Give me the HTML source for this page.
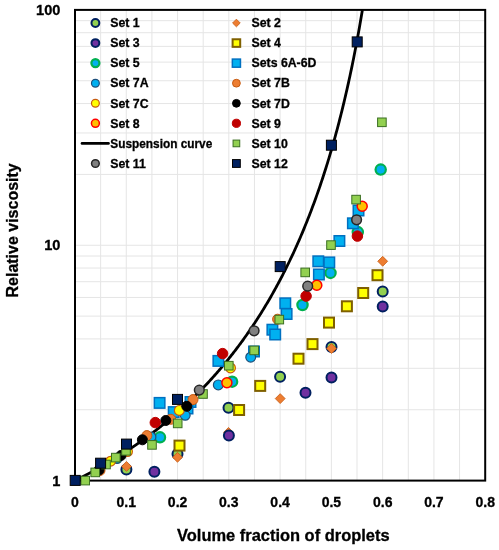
<!DOCTYPE html>
<html><head><meta charset="utf-8"><title>Relative viscosity chart</title>
<style>html,body{margin:0;padding:0;background:#fff;}body{width:499px;height:550px;overflow:hidden;}svg{display:block;}</style>
</head><body>
<svg width="499" height="550" viewBox="0 0 499 550"><path d="M100.64 9.9V480.6M126.28 9.9V480.6M151.91 9.9V480.6M177.55 9.9V480.6M203.19 9.9V480.6M228.83 9.9V480.6M254.46 9.9V480.6M280.10 9.9V480.6M305.74 9.9V480.6M331.38 9.9V480.6M357.01 9.9V480.6M382.65 9.9V480.6M408.29 9.9V480.6M433.93 9.9V480.6M459.56 9.9V480.6M75.0 409.75H485.2M75.0 368.31H485.2M75.0 338.91H485.2M75.0 316.10H485.2M75.0 297.46H485.2M75.0 281.71H485.2M75.0 268.06H485.2M75.0 256.02H485.2M75.0 174.40H485.2M75.0 132.96H485.2M75.0 103.56H485.2M75.0 80.75H485.2M75.0 62.11H485.2M75.0 46.36H485.2M75.0 32.71H485.2M75.0 20.67H485.2M75.0 245.25H485.2" stroke="#E5E5E5" stroke-width="1" fill="none"/>
<rect x="75.0" y="9.9" width="410.20" height="470.70" fill="none" stroke="#000" stroke-width="2"/>
<polyline points="75.00,480.60 75.73,480.24 76.45,479.88 77.18,479.52 77.90,479.15 78.63,478.79 79.35,478.42 80.08,478.05 80.80,477.68 81.53,477.31 82.25,476.94 82.98,476.57 83.71,476.19 84.43,475.82 85.16,475.44 85.88,475.06 86.61,474.68 87.33,474.30 88.06,473.91 88.78,473.53 89.51,473.14 90.23,472.75 90.96,472.36 91.68,471.97 92.41,471.58 93.14,471.18 93.86,470.79 94.59,470.39 95.31,469.99 96.04,469.59 96.76,469.19 97.49,468.78 98.21,468.38 98.94,467.97 99.66,467.56 100.39,467.15 101.12,466.74 101.84,466.33 102.57,465.91 103.29,465.49 104.02,465.07 104.74,464.65 105.47,464.23 106.19,463.81 106.92,463.38 107.64,462.96 108.37,462.53 109.10,462.10 109.82,461.67 110.55,461.23 111.27,460.80 112.00,460.36 112.72,459.92 113.45,459.48 114.17,459.04 114.90,458.59 115.62,458.15 116.35,457.70 117.08,457.25 117.80,456.80 118.53,456.35 119.25,455.89 119.98,455.44 120.70,454.98 121.43,454.52 122.15,454.05 122.88,453.59 123.60,453.12 124.33,452.66 125.05,452.19 125.78,451.71 126.51,451.24 127.23,450.76 127.96,450.29 128.68,449.81 129.41,449.33 130.13,448.84 130.86,448.36 131.58,447.87 132.31,447.38 133.03,446.89 133.76,446.39 134.49,445.90 135.21,445.40 135.94,444.90 136.66,444.40 137.39,443.90 138.11,443.39 138.84,442.88 139.56,442.37 140.29,441.86 141.01,441.34 141.74,440.83 142.47,440.31 143.19,439.79 143.92,439.27 144.64,438.74 145.37,438.21 146.09,437.68 146.82,437.15 147.54,436.62 148.27,436.08 148.99,435.54 149.72,435.00 150.44,434.46 151.17,433.91 151.90,433.36 152.62,432.81 153.35,432.26 154.07,431.71 154.80,431.15 155.52,430.59 156.25,430.03 156.97,429.46 157.70,428.90 158.42,428.33 159.15,427.75 159.88,427.18 160.60,426.60 161.33,426.02 162.05,425.44 162.78,424.86 163.50,424.27 164.23,423.68 164.95,423.09 165.68,422.49 166.40,421.90 167.13,421.30 167.86,420.69 168.58,420.09 169.31,419.48 170.03,418.87 170.76,418.26 171.48,417.64 172.21,417.02 172.93,416.40 173.66,415.78 174.38,415.15 175.11,414.52 175.84,413.89 176.56,413.25 177.29,412.61 178.01,411.97 178.74,411.33 179.46,410.68 180.19,410.03 180.91,409.38 181.64,408.72 182.36,408.06 183.09,407.40 183.81,406.74 184.54,406.07 185.27,405.40 185.99,404.72 186.72,404.05 187.44,403.37 188.17,402.68 188.89,402.00 189.62,401.31 190.34,400.61 191.07,399.92 191.79,399.22 192.52,398.51 193.25,397.81 193.97,397.10 194.70,396.39 195.42,395.67 196.15,394.95 196.87,394.23 197.60,393.50 198.32,392.77 199.05,392.04 199.77,391.30 200.50,390.56 201.23,389.82 201.95,389.07 202.68,388.32 203.40,387.56 204.13,386.80 204.85,386.04 205.58,385.28 206.30,384.51 207.03,383.73 207.75,382.95 208.48,382.17 209.20,381.39 209.93,380.60 210.66,379.81 211.38,379.01 212.11,378.21 212.83,377.41 213.56,376.60 214.28,375.78 215.01,374.97 215.73,374.15 216.46,373.32 217.18,372.49 217.91,371.66 218.64,370.82 219.36,369.98 220.09,369.13 220.81,368.28 221.54,367.43 222.26,366.57 222.99,365.70 223.71,364.84 224.44,363.96 225.16,363.09 225.89,362.20 226.62,361.32 227.34,360.43 228.07,359.53 228.79,358.63 229.52,357.72 230.24,356.81 230.97,355.90 231.69,354.98 232.42,354.05 233.14,353.12 233.87,352.19 234.60,351.25 235.32,350.30 236.05,349.35 236.77,348.40 237.50,347.44 238.22,346.47 238.95,345.50 239.67,344.52 240.40,343.54 241.12,342.55 241.85,341.56 242.57,340.56 243.30,339.56 244.03,338.55 244.75,337.53 245.48,336.51 246.20,335.49 246.93,334.45 247.65,333.41 248.38,332.37 249.10,331.32 249.83,330.26 250.55,329.20 251.28,328.13 252.01,327.05 252.73,325.97 253.46,324.88 254.18,323.79 254.91,322.69 255.63,321.58 256.36,320.46 257.08,319.34 257.81,318.22 258.53,317.08 259.26,315.94 259.99,314.79 260.71,313.64 261.44,312.47 262.16,311.30 262.89,310.13 263.61,308.94 264.34,307.75 265.06,306.55 265.79,305.35 266.51,304.13 267.24,302.91 267.96,301.68 268.69,300.44 269.42,299.20 270.14,297.95 270.87,296.68 271.59,295.41 272.32,294.14 273.04,292.85 273.77,291.56 274.49,290.25 275.22,288.94 275.94,287.62 276.67,286.29 277.40,284.95 278.12,283.61 278.85,282.25 279.57,280.89 280.30,279.51 281.02,278.13 281.75,276.73 282.47,275.33 283.20,273.92 283.92,272.49 284.65,271.06 285.38,269.62 286.10,268.16 286.83,266.70 287.55,265.23 288.28,263.74 289.00,262.25 289.73,260.74 290.45,259.22 291.18,257.69 291.90,256.15 292.63,254.60 293.36,253.04 294.08,251.47 294.81,249.88 295.53,248.28 296.26,246.67 296.98,245.05 297.71,243.41 298.43,241.77 299.16,240.10 299.88,238.43 300.61,236.74 301.33,235.04 302.06,233.33 302.79,231.60 303.51,229.86 304.24,228.11 304.96,226.34 305.69,224.55 306.41,222.75 307.14,220.94 307.86,219.11 308.59,217.27 309.31,215.41 310.04,213.53 310.77,211.64 311.49,209.73 312.22,207.80 312.94,205.86 313.67,203.90 314.39,201.93 315.12,199.93 315.84,197.92 316.57,195.89 317.29,193.85 318.02,191.78 318.75,189.69 319.47,187.59 320.20,185.46 320.92,183.32 321.65,181.15 322.37,178.97 323.10,176.76 323.82,174.53 324.55,172.28 325.27,170.01 326.00,167.72 326.72,165.40 327.45,163.06 328.18,160.69 328.90,158.30 329.63,155.89 330.35,153.45 331.08,150.98 331.80,148.49 332.53,145.98 333.25,143.43 333.98,140.86 334.70,138.26 335.43,135.63 336.16,132.97 336.88,130.28 337.61,127.56 338.33,124.81 339.06,122.03 339.78,119.22 340.51,116.37 341.23,113.49 341.96,110.57 342.68,107.62 343.41,104.63 344.14,101.60 344.86,98.54 345.59,95.44 346.31,92.30 347.04,89.11 347.76,85.89 348.49,82.62 349.21,79.31 349.94,75.95 350.66,72.55 351.39,69.10 352.12,65.60 352.84,62.06 353.57,58.46 354.29,54.81 355.02,51.10 355.74,47.34 356.47,43.53 357.19,39.65 357.92,35.71 358.64,31.72 359.37,27.65 360.09,23.53 360.82,19.33 361.55,15.07 362.27,10.73 362.41,9.90" fill="none" stroke="#000" stroke-width="2.8" stroke-linejoin="round"/>
<circle cx="126.4" cy="469.6" r="5.00" fill="#92D050" stroke="#002060" stroke-width="2"/>
<circle cx="177.5" cy="454.0" r="5.00" fill="#92D050" stroke="#002060" stroke-width="2"/>
<circle cx="228.5" cy="407.8" r="5.00" fill="#92D050" stroke="#002060" stroke-width="2"/>
<circle cx="280.1" cy="376.8" r="5.00" fill="#92D050" stroke="#002060" stroke-width="2"/>
<circle cx="331.5" cy="347.1" r="5.00" fill="#92D050" stroke="#002060" stroke-width="2"/>
<circle cx="382.7" cy="291.5" r="5.00" fill="#92D050" stroke="#002060" stroke-width="2"/>
<path d="M126.50 461.46L131.44 466.40L126.50 471.34L121.56 466.40Z" fill="#ED7D31" stroke="#C55A11" stroke-width="0.8" stroke-linejoin="miter"/>
<path d="M177.50 452.36L182.44 457.30L177.50 462.24L172.56 457.30Z" fill="#ED7D31" stroke="#C55A11" stroke-width="0.8" stroke-linejoin="miter"/>
<path d="M228.50 427.46L233.44 432.40L228.50 437.34L223.56 432.40Z" fill="#ED7D31" stroke="#C55A11" stroke-width="0.8" stroke-linejoin="miter"/>
<path d="M280.20 393.66L285.14 398.60L280.20 403.54L275.26 398.60Z" fill="#ED7D31" stroke="#C55A11" stroke-width="0.8" stroke-linejoin="miter"/>
<path d="M331.50 343.56L336.44 348.50L331.50 353.44L326.56 348.50Z" fill="#ED7D31" stroke="#C55A11" stroke-width="0.8" stroke-linejoin="miter"/>
<path d="M382.70 256.36L387.64 261.30L382.70 266.24L377.76 261.30Z" fill="#ED7D31" stroke="#C55A11" stroke-width="0.8" stroke-linejoin="miter"/>
<circle cx="154.4" cy="471.7" r="5.00" fill="#7030A0" stroke="#002060" stroke-width="2"/>
<circle cx="228.9" cy="435.5" r="5.00" fill="#7030A0" stroke="#002060" stroke-width="2"/>
<circle cx="305.5" cy="392.8" r="5.00" fill="#7030A0" stroke="#002060" stroke-width="2"/>
<circle cx="331.5" cy="377.5" r="5.00" fill="#7030A0" stroke="#002060" stroke-width="2"/>
<circle cx="382.7" cy="306.5" r="5.00" fill="#7030A0" stroke="#002060" stroke-width="2"/>
<rect x="174.50" y="440.60" width="10.00" height="10.00" fill="#FFFF00" stroke="#7F6000" stroke-width="2"/>
<rect x="234.10" y="405.00" width="10.00" height="10.00" fill="#FFFF00" stroke="#7F6000" stroke-width="2"/>
<rect x="255.20" y="380.90" width="10.00" height="10.00" fill="#FFFF00" stroke="#7F6000" stroke-width="2"/>
<rect x="293.50" y="353.70" width="10.00" height="10.00" fill="#FFFF00" stroke="#7F6000" stroke-width="2"/>
<rect x="307.50" y="339.10" width="10.00" height="10.00" fill="#FFFF00" stroke="#7F6000" stroke-width="2"/>
<rect x="324.00" y="317.60" width="10.00" height="10.00" fill="#FFFF00" stroke="#7F6000" stroke-width="2"/>
<rect x="341.90" y="301.30" width="10.00" height="10.00" fill="#FFFF00" stroke="#7F6000" stroke-width="2"/>
<rect x="358.20" y="288.00" width="10.00" height="10.00" fill="#FFFF00" stroke="#7F6000" stroke-width="2"/>
<rect x="372.50" y="270.20" width="10.00" height="10.00" fill="#FFFF00" stroke="#7F6000" stroke-width="2"/>
<circle cx="160.0" cy="437.3" r="5.15" fill="#00B0F0" stroke="#00B050" stroke-width="2.2"/>
<circle cx="232.1" cy="381.7" r="5.15" fill="#00B0F0" stroke="#00B050" stroke-width="2.2"/>
<circle cx="302.5" cy="305.0" r="5.15" fill="#00B0F0" stroke="#00B050" stroke-width="2.2"/>
<circle cx="330.5" cy="272.9" r="5.15" fill="#00B0F0" stroke="#00B050" stroke-width="2.2"/>
<circle cx="357.8" cy="232.1" r="5.15" fill="#00B0F0" stroke="#00B050" stroke-width="2.2"/>
<circle cx="380.7" cy="169.6" r="5.15" fill="#00B0F0" stroke="#00B050" stroke-width="2.2"/>
<rect x="154.35" y="397.65" width="10.50" height="10.50" fill="#00B0F0" stroke="#0070C0" stroke-width="1.5"/>
<rect x="168.45" y="406.85" width="10.50" height="10.50" fill="#00B0F0" stroke="#0070C0" stroke-width="1.5"/>
<rect x="185.25" y="396.75" width="10.50" height="10.50" fill="#00B0F0" stroke="#0070C0" stroke-width="1.5"/>
<rect x="182.25" y="403.25" width="10.50" height="10.50" fill="#00B0F0" stroke="#0070C0" stroke-width="1.5"/>
<rect x="213.15" y="355.65" width="10.50" height="10.50" fill="#00B0F0" stroke="#0070C0" stroke-width="1.5"/>
<rect x="248.75" y="346.25" width="10.50" height="10.50" fill="#00B0F0" stroke="#0070C0" stroke-width="1.5"/>
<rect x="280.05" y="298.05" width="10.50" height="10.50" fill="#00B0F0" stroke="#0070C0" stroke-width="1.5"/>
<rect x="281.35" y="308.75" width="10.50" height="10.50" fill="#00B0F0" stroke="#0070C0" stroke-width="1.5"/>
<rect x="267.15" y="324.45" width="10.50" height="10.50" fill="#00B0F0" stroke="#0070C0" stroke-width="1.5"/>
<rect x="269.95" y="329.25" width="10.50" height="10.50" fill="#00B0F0" stroke="#0070C0" stroke-width="1.5"/>
<rect x="313.05" y="256.05" width="10.50" height="10.50" fill="#00B0F0" stroke="#0070C0" stroke-width="1.5"/>
<rect x="324.05" y="257.15" width="10.50" height="10.50" fill="#00B0F0" stroke="#0070C0" stroke-width="1.5"/>
<rect x="313.65" y="269.25" width="10.50" height="10.50" fill="#00B0F0" stroke="#0070C0" stroke-width="1.5"/>
<rect x="334.15" y="235.75" width="10.50" height="10.50" fill="#00B0F0" stroke="#0070C0" stroke-width="1.5"/>
<rect x="347.65" y="218.05" width="10.50" height="10.50" fill="#00B0F0" stroke="#0070C0" stroke-width="1.5"/>
<rect x="353.25" y="205.25" width="10.50" height="10.50" fill="#00B0F0" stroke="#0070C0" stroke-width="1.5"/>
<circle cx="117.0" cy="458.5" r="4.90" fill="#00B0F0" stroke="#1F4E79" stroke-width="1.2"/>
<circle cx="151.0" cy="437.0" r="4.90" fill="#00B0F0" stroke="#1F4E79" stroke-width="1.2"/>
<circle cx="185.2" cy="415.3" r="4.90" fill="#00B0F0" stroke="#1F4E79" stroke-width="1.2"/>
<circle cx="218.3" cy="384.9" r="4.90" fill="#00B0F0" stroke="#1F4E79" stroke-width="1.2"/>
<circle cx="250.7" cy="357.2" r="4.90" fill="#00B0F0" stroke="#1F4E79" stroke-width="1.2"/>
<circle cx="100.0" cy="470.5" r="5.00" fill="#ED7D31" stroke="#C55A11" stroke-width="1"/>
<circle cx="146.9" cy="435.6" r="5.00" fill="#ED7D31" stroke="#C55A11" stroke-width="1"/>
<circle cx="170.8" cy="419.3" r="5.00" fill="#ED7D31" stroke="#C55A11" stroke-width="1"/>
<circle cx="193.0" cy="399.6" r="5.00" fill="#ED7D31" stroke="#C55A11" stroke-width="1"/>
<circle cx="277.6" cy="319.2" r="5.00" fill="#ED7D31" stroke="#C55A11" stroke-width="1"/>
<circle cx="110.6" cy="461.2" r="4.90" fill="#FFFF00" stroke="#C55A11" stroke-width="1.2"/>
<circle cx="127.5" cy="451.5" r="4.90" fill="#FFFF00" stroke="#C55A11" stroke-width="1.2"/>
<circle cx="179.3" cy="410.4" r="4.90" fill="#FFFF00" stroke="#C55A11" stroke-width="1.2"/>
<circle cx="230.5" cy="367.9" r="4.90" fill="#FFFF00" stroke="#C55A11" stroke-width="1.2"/>
<circle cx="99.0" cy="470.0" r="5.00" fill="#000000" stroke="#000000" stroke-width="1"/>
<circle cx="121.0" cy="455.5" r="5.00" fill="#000000" stroke="#000000" stroke-width="1"/>
<circle cx="142.4" cy="439.8" r="5.00" fill="#000000" stroke="#000000" stroke-width="1"/>
<circle cx="165.8" cy="420.5" r="5.00" fill="#000000" stroke="#000000" stroke-width="1"/>
<circle cx="186.8" cy="406.3" r="5.00" fill="#000000" stroke="#000000" stroke-width="1"/>
<circle cx="226.9" cy="382.8" r="5.00" fill="#FFC000" stroke="#FF0000" stroke-width="1.5"/>
<circle cx="316.8" cy="285.2" r="5.00" fill="#FFC000" stroke="#FF0000" stroke-width="1.5"/>
<circle cx="362.2" cy="206.3" r="5.00" fill="#FFC000" stroke="#FF0000" stroke-width="1.5"/>
<circle cx="155.3" cy="422.6" r="5.25" fill="#C00000" stroke="#C00000" stroke-width="1"/>
<circle cx="222.6" cy="353.6" r="5.25" fill="#C00000" stroke="#C00000" stroke-width="1"/>
<circle cx="306.1" cy="296.1" r="5.25" fill="#C00000" stroke="#C00000" stroke-width="1"/>
<circle cx="357.4" cy="236.1" r="5.25" fill="#C00000" stroke="#C00000" stroke-width="1"/>
<rect x="80.90" y="476.30" width="8.60" height="8.60" fill="#92D050" stroke="#3B6E22" stroke-width="1"/>
<rect x="90.90" y="468.10" width="8.60" height="8.60" fill="#92D050" stroke="#3B6E22" stroke-width="1"/>
<rect x="101.70" y="460.20" width="8.60" height="8.60" fill="#92D050" stroke="#3B6E22" stroke-width="1"/>
<rect x="111.50" y="453.30" width="8.60" height="8.60" fill="#92D050" stroke="#3B6E22" stroke-width="1"/>
<rect x="121.70" y="446.50" width="8.60" height="8.60" fill="#92D050" stroke="#3B6E22" stroke-width="1"/>
<rect x="147.70" y="440.60" width="8.60" height="8.60" fill="#92D050" stroke="#3B6E22" stroke-width="1"/>
<rect x="173.40" y="419.10" width="8.60" height="8.60" fill="#92D050" stroke="#3B6E22" stroke-width="1"/>
<rect x="198.70" y="389.70" width="8.60" height="8.60" fill="#92D050" stroke="#3B6E22" stroke-width="1"/>
<rect x="224.50" y="361.40" width="8.60" height="8.60" fill="#92D050" stroke="#3B6E22" stroke-width="1"/>
<rect x="249.90" y="346.10" width="8.60" height="8.60" fill="#92D050" stroke="#3B6E22" stroke-width="1"/>
<rect x="275.00" y="315.30" width="8.60" height="8.60" fill="#92D050" stroke="#3B6E22" stroke-width="1"/>
<rect x="300.90" y="268.10" width="8.60" height="8.60" fill="#92D050" stroke="#3B6E22" stroke-width="1"/>
<rect x="326.70" y="240.80" width="8.60" height="8.60" fill="#92D050" stroke="#3B6E22" stroke-width="1"/>
<rect x="351.80" y="195.30" width="8.60" height="8.60" fill="#92D050" stroke="#3B6E22" stroke-width="1"/>
<rect x="377.60" y="118.00" width="8.60" height="8.60" fill="#92D050" stroke="#3B6E22" stroke-width="1"/>
<circle cx="199.3" cy="390.1" r="4.85" fill="#808080" stroke="#262626" stroke-width="1.5"/>
<circle cx="254.1" cy="330.8" r="4.85" fill="#808080" stroke="#262626" stroke-width="1.5"/>
<circle cx="307.7" cy="286.2" r="4.85" fill="#808080" stroke="#262626" stroke-width="1.5"/>
<circle cx="356.6" cy="219.8" r="4.85" fill="#808080" stroke="#262626" stroke-width="1.5"/>
<rect x="70.20" y="475.40" width="10.00" height="10.00" fill="#002060" stroke="#000000" stroke-width="1"/>
<rect x="95.60" y="458.20" width="10.00" height="10.00" fill="#002060" stroke="#000000" stroke-width="1"/>
<rect x="121.50" y="439.10" width="10.00" height="10.00" fill="#002060" stroke="#000000" stroke-width="1"/>
<rect x="172.50" y="394.40" width="10.00" height="10.00" fill="#002060" stroke="#000000" stroke-width="1"/>
<rect x="275.20" y="261.60" width="10.00" height="10.00" fill="#002060" stroke="#000000" stroke-width="1"/>
<rect x="326.40" y="140.20" width="10.00" height="10.00" fill="#002060" stroke="#000000" stroke-width="1"/>
<rect x="352.20" y="36.90" width="10.00" height="10.00" fill="#002060" stroke="#000000" stroke-width="1"/>
<circle cx="95.4" cy="23.0" r="3.92" fill="#92D050" stroke="#002060" stroke-width="2"/>
<text x="110.3" y="27.2" font-family="Liberation Sans, Arial, sans-serif" font-weight="bold" stroke="#000" stroke-width="0.3" font-size="12.3" fill="#000">Set 1</text>
<circle cx="95.4" cy="43.1" r="3.92" fill="#7030A0" stroke="#002060" stroke-width="2"/>
<text x="110.3" y="47.3" font-family="Liberation Sans, Arial, sans-serif" font-weight="bold" stroke="#000" stroke-width="0.3" font-size="12.3" fill="#000">Set 3</text>
<circle cx="95.4" cy="63.1" r="4.03" fill="#00B0F0" stroke="#00B050" stroke-width="2.2"/>
<text x="110.3" y="67.3" font-family="Liberation Sans, Arial, sans-serif" font-weight="bold" stroke="#000" stroke-width="0.3" font-size="12.3" fill="#000">Set 5</text>
<circle cx="95.4" cy="83.2" r="3.91" fill="#00B0F0" stroke="#1F4E79" stroke-width="1.2"/>
<text x="110.3" y="87.4" font-family="Liberation Sans, Arial, sans-serif" font-weight="bold" stroke="#000" stroke-width="0.3" font-size="12.3" fill="#000">Set 7A</text>
<circle cx="95.4" cy="103.3" r="3.91" fill="#FFFF00" stroke="#C55A11" stroke-width="1.2"/>
<text x="110.3" y="107.5" font-family="Liberation Sans, Arial, sans-serif" font-weight="bold" stroke="#000" stroke-width="0.3" font-size="12.3" fill="#000">Set 7C</text>
<circle cx="95.4" cy="123.3" r="3.96" fill="#FFC000" stroke="#FF0000" stroke-width="1.5"/>
<text x="110.3" y="127.5" font-family="Liberation Sans, Arial, sans-serif" font-weight="bold" stroke="#000" stroke-width="0.3" font-size="12.3" fill="#000">Set 8</text>
<line x1="82" y1="143.4" x2="108.5" y2="143.4" stroke="#000" stroke-width="2.6" stroke-linecap="round"/>
<text x="110.3" y="147.6" font-family="Liberation Sans, Arial, sans-serif" font-weight="bold" stroke="#000" stroke-width="0.3" font-size="12.3" fill="#000" textLength="102" lengthAdjust="spacingAndGlyphs">Suspension curve</text>
<circle cx="95.4" cy="163.5" r="3.84" fill="#808080" stroke="#262626" stroke-width="1.5"/>
<text x="110.3" y="167.7" font-family="Liberation Sans, Arial, sans-serif" font-weight="bold" stroke="#000" stroke-width="0.3" font-size="12.3" fill="#000">Set 11</text>
<path d="M236.40 19.16L240.24 23.00L236.40 26.84L232.56 23.00Z" fill="#ED7D31" stroke="#C55A11" stroke-width="0.8" stroke-linejoin="miter"/>
<text x="251.5" y="27.2" font-family="Liberation Sans, Arial, sans-serif" font-weight="bold" stroke="#000" stroke-width="0.3" font-size="12.3" fill="#000">Set 2</text>
<rect x="232.60" y="39.27" width="7.60" height="7.60" fill="#FFFF00" stroke="#7F6000" stroke-width="2"/>
<text x="251.5" y="47.3" font-family="Liberation Sans, Arial, sans-serif" font-weight="bold" stroke="#000" stroke-width="0.3" font-size="12.3" fill="#000">Set 4</text>
<rect x="232.35" y="59.09" width="8.10" height="8.10" fill="#00B0F0" stroke="#0070C0" stroke-width="1.5"/>
<text x="251.5" y="67.3" font-family="Liberation Sans, Arial, sans-serif" font-weight="bold" stroke="#000" stroke-width="0.3" font-size="12.3" fill="#000">Sets 6A-6D</text>
<circle cx="236.4" cy="83.2" r="3.90" fill="#ED7D31" stroke="#C55A11" stroke-width="1"/>
<text x="251.5" y="87.4" font-family="Liberation Sans, Arial, sans-serif" font-weight="bold" stroke="#000" stroke-width="0.3" font-size="12.3" fill="#000">Set 7B</text>
<circle cx="236.4" cy="103.3" r="3.90" fill="#000000" stroke="#000000" stroke-width="1"/>
<text x="251.5" y="107.5" font-family="Liberation Sans, Arial, sans-serif" font-weight="bold" stroke="#000" stroke-width="0.3" font-size="12.3" fill="#000">Set 7D</text>
<circle cx="236.4" cy="123.3" r="4.10" fill="#C00000" stroke="#C00000" stroke-width="1"/>
<text x="251.5" y="127.5" font-family="Liberation Sans, Arial, sans-serif" font-weight="bold" stroke="#000" stroke-width="0.3" font-size="12.3" fill="#000">Set 9</text>
<rect x="233.06" y="140.08" width="6.68" height="6.68" fill="#92D050" stroke="#3B6E22" stroke-width="1"/>
<text x="251.5" y="147.6" font-family="Liberation Sans, Arial, sans-serif" font-weight="bold" stroke="#000" stroke-width="0.3" font-size="12.3" fill="#000">Set 10</text>
<rect x="232.50" y="159.59" width="7.80" height="7.80" fill="#002060" stroke="#000000" stroke-width="1"/>
<text x="251.5" y="167.7" font-family="Liberation Sans, Arial, sans-serif" font-weight="bold" stroke="#000" stroke-width="0.3" font-size="12.3" fill="#000">Set 12</text>
<text x="60.4" y="15.0" font-family="Liberation Sans, Arial, sans-serif" font-weight="bold" stroke="#000" stroke-width="0.3" font-size="14.6" text-anchor="end" fill="#000">100</text>
<text x="60.4" y="250.3" font-family="Liberation Sans, Arial, sans-serif" font-weight="bold" stroke="#000" stroke-width="0.3" font-size="14.6" text-anchor="end" fill="#000">10</text>
<text x="60.4" y="485.7" font-family="Liberation Sans, Arial, sans-serif" font-weight="bold" stroke="#000" stroke-width="0.3" font-size="14.6" text-anchor="end" fill="#000">1</text>
<text x="75.0" y="506.7" font-family="Liberation Sans, Arial, sans-serif" font-weight="bold" stroke="#000" stroke-width="0.3" font-size="14" text-anchor="middle" fill="#000">0</text>
<text x="126.3" y="506.7" font-family="Liberation Sans, Arial, sans-serif" font-weight="bold" stroke="#000" stroke-width="0.3" font-size="14" text-anchor="middle" fill="#000">0.1</text>
<text x="177.6" y="506.7" font-family="Liberation Sans, Arial, sans-serif" font-weight="bold" stroke="#000" stroke-width="0.3" font-size="14" text-anchor="middle" fill="#000">0.2</text>
<text x="228.8" y="506.7" font-family="Liberation Sans, Arial, sans-serif" font-weight="bold" stroke="#000" stroke-width="0.3" font-size="14" text-anchor="middle" fill="#000">0.3</text>
<text x="280.1" y="506.7" font-family="Liberation Sans, Arial, sans-serif" font-weight="bold" stroke="#000" stroke-width="0.3" font-size="14" text-anchor="middle" fill="#000">0.4</text>
<text x="331.4" y="506.7" font-family="Liberation Sans, Arial, sans-serif" font-weight="bold" stroke="#000" stroke-width="0.3" font-size="14" text-anchor="middle" fill="#000">0.5</text>
<text x="382.7" y="506.7" font-family="Liberation Sans, Arial, sans-serif" font-weight="bold" stroke="#000" stroke-width="0.3" font-size="14" text-anchor="middle" fill="#000">0.6</text>
<text x="433.9" y="506.7" font-family="Liberation Sans, Arial, sans-serif" font-weight="bold" stroke="#000" stroke-width="0.3" font-size="14" text-anchor="middle" fill="#000">0.7</text>
<text x="485.2" y="506.7" font-family="Liberation Sans, Arial, sans-serif" font-weight="bold" stroke="#000" stroke-width="0.3" font-size="14" text-anchor="middle" fill="#000">0.8</text>
<text x="283.3" y="540.6" font-family="Liberation Sans, Arial, sans-serif" font-weight="bold" stroke="#000" stroke-width="0.3" font-size="16.3" text-anchor="middle" fill="#000" textLength="212.5" lengthAdjust="spacingAndGlyphs">Volume fraction of droplets</text>
<text transform="translate(17.9,230.4) rotate(-90)" x="0" y="0" font-family="Liberation Sans, Arial, sans-serif" font-weight="bold" stroke="#000" stroke-width="0.3" font-size="16.3" text-anchor="middle" fill="#000" textLength="134.2" lengthAdjust="spacingAndGlyphs">Relative viscosity</text></svg>
</body></html>
